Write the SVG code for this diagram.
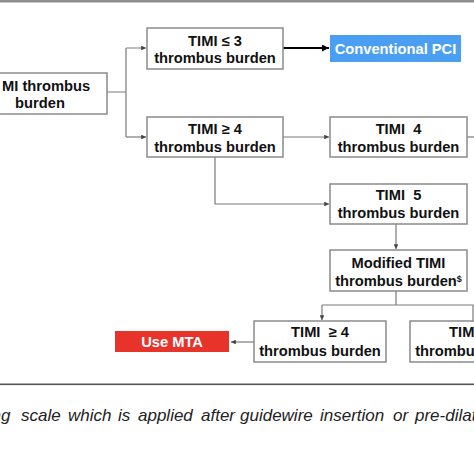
<svg xmlns="http://www.w3.org/2000/svg" width="474" height="474" viewBox="0 0 474 474">
<style>
.box{fill:#fff;stroke:#8a8a8a;stroke-width:1.5}
.t{font-family:"Liberation Sans",Arial,sans-serif;font-weight:bold;font-size:14.7px;fill:#111;text-anchor:middle}
.w{fill:#fff}
.c{fill:none;stroke:#7a7a7a;stroke-width:1.2}
.cap{font-family:"Liberation Sans",Arial,sans-serif;font-style:italic;font-size:17px;fill:#222}
</style>
<defs>
<marker id="a" viewBox="0 0 6 6" refX="6" refY="3" markerWidth="4" markerHeight="4" orient="auto"><path d="M0,0L6,3L0,6z" fill="#444"/></marker>
<marker id="ab" viewBox="0 0 6 6" refX="6" refY="3" markerWidth="3.5" markerHeight="3.5" orient="auto"><path d="M0,0L6,3L0,6z" fill="#000"/></marker>
</defs>
<rect x="0" y="0" width="474" height="474" fill="#fff"/>
<rect x="0" y="0" width="474" height="2.5" fill="#8e8e8e"/>
<g id="connectors">
<path class="c" d="M107,92H126M126,48V137M126,48H146" marker-end="url(#a)"/>
<path class="c" d="M126,137H146" marker-end="url(#a)"/>
<path d="M283,48H329" fill="none" stroke="#000" stroke-width="2" marker-end="url(#ab)"/>
<path class="c" d="M283,137H329" marker-end="url(#a)"/>
<path class="c" d="M467,137H474"/>
<path class="c" d="M215,157V204H329" marker-end="url(#a)"/>
<path class="c" d="M396,224V249" marker-end="url(#a)"/>
<path class="c" d="M396,291V305M322,305H473V321"/>
<path class="c" d="M322,305V320" marker-end="url(#a)"/>
<path class="c" d="M254,342H231" marker-end="url(#a)"/>
</g>
<g id="n-start">
<rect class="box" x="-30" y="73" width="137" height="41"/>
<text class="t" x="2" y="91" style="text-anchor:start">MI thrombus</text>
<text class="t" x="40" y="108">burden</text>
</g>
<g id="n-le3">
<rect class="box" x="147" y="28" width="136" height="41"/>
<text class="t" x="215" y="46">TIMI ≤ 3</text>
<text class="t" x="215" y="63">thrombus burden</text>
</g>
<g id="n-pci">
<rect x="330" y="35" width="131" height="27" fill="#4b9ff2"/>
<text class="t w" x="395.5" y="54">Conventional PCI</text>
</g>
<g id="n-ge4">
<rect class="box" x="147" y="117" width="136" height="40"/>
<text class="t" x="215" y="134">TIMI ≥ 4</text>
<text class="t" x="215" y="152">thrombus burden</text>
</g>
<g id="n-timi4">
<rect class="box" x="330" y="117" width="137" height="40"/>
<text class="t" x="398.5" y="134">TIMI&#160;&#160;4</text>
<text class="t" x="398.5" y="152">thrombus burden</text>
</g>
<g id="n-timi5">
<rect class="box" x="330" y="184" width="137" height="40"/>
<text class="t" x="398.5" y="200">TIMI&#160;&#160;5</text>
<text class="t" x="398.5" y="218">thrombus burden</text>
</g>
<g id="n-mod">
<rect class="box" x="330" y="250" width="137" height="41"/>
<text class="t" x="398.5" y="268">Modified TIMI</text>
<text class="t" x="398.5" y="286">thrombus burden<tspan font-size="9" dy="-4">$</tspan></text>
</g>
<g id="n-mge4">
<rect class="box" x="254" y="321" width="132" height="41"/>
<text class="t" x="320" y="337">TIMI&#160; ≥ 4</text>
<text class="t" x="320" y="356">thrombus burden</text>
</g>
<g id="n-mle3">
<rect class="box" x="410" y="321" width="132" height="41"/>
<text class="t" x="476" y="337">TIMI ≤ 3</text>
<text class="t" x="476" y="356">thrombus burden</text>
</g>
<g id="n-mta">
<rect x="115" y="331" width="114" height="21" fill="#e8332b"/>
<text class="t w" x="172" y="347">Use MTA</text>
</g>
<rect x="0" y="383.5" width="474" height="1.6" fill="#555"/>
<text class="cap" y="421"><tspan x="-8.5">ng</tspan><tspan x="21">scale</tspan><tspan x="68">which</tspan><tspan x="118">is</tspan><tspan x="138">applied</tspan><tspan x="201">after</tspan><tspan x="240">guidewire</tspan><tspan x="320">insertion</tspan><tspan x="393">or</tspan><tspan x="415">pre-dilatation</tspan></text>
</svg>
